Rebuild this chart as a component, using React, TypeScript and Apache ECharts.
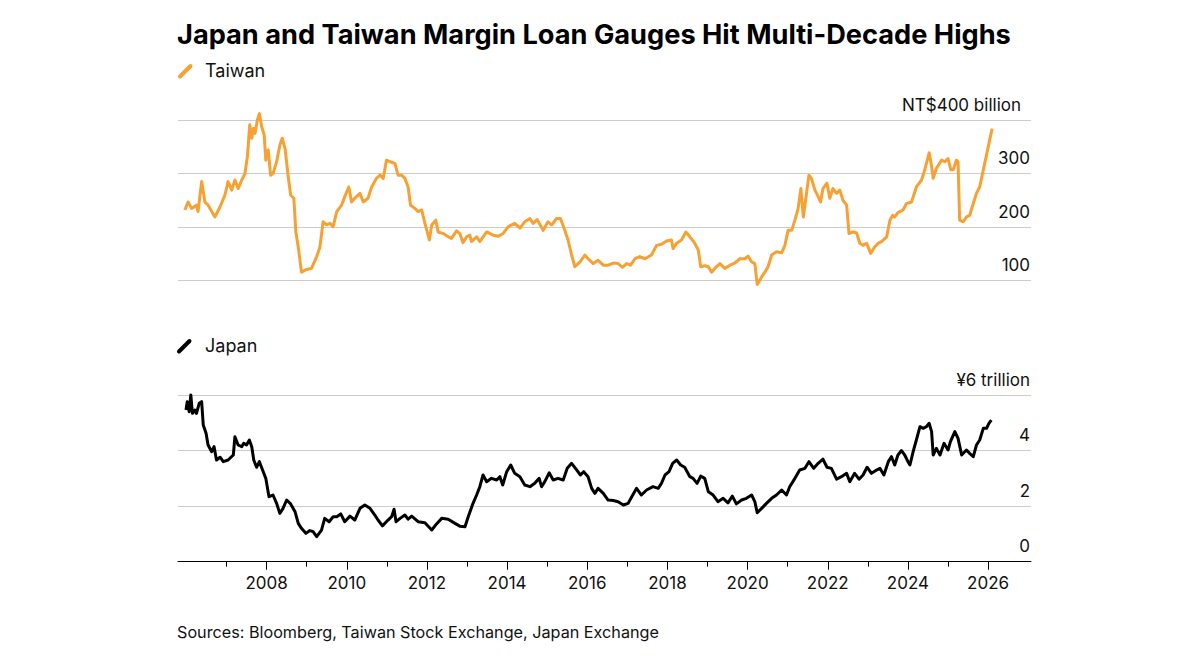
import React, { useEffect, useRef } from "react";
import * as echarts from "echarts";

const TITLE = "Japan and Taiwan Margin Loan Gauges Hit Multi-Decade Highs";
const SOURCE = "Sources: Bloomberg, Taiwan Stock Exchange, Japan Exchange";

const taiwanYears = [
  2005.96, 2006.04, 2006.13, 2006.25, 2006.29, 2006.38, 2006.46, 2006.54, 2006.71, 2006.84,
  2006.96, 2007.04, 2007.13, 2007.21, 2007.29, 2007.38, 2007.46, 2007.52, 2007.58, 2007.63,
  2007.67, 2007.71, 2007.77, 2007.82, 2007.88, 2007.94, 2007.98, 2008.04, 2008.1, 2008.16,
  2008.25, 2008.33, 2008.39, 2008.46, 2008.54, 2008.6, 2008.68, 2008.73, 2008.79, 2008.87,
  2009.0, 2009.12, 2009.25, 2009.33, 2009.41, 2009.5, 2009.58, 2009.66, 2009.75, 2009.87,
  2009.95, 2010.05, 2010.12, 2010.24, 2010.33, 2010.41, 2010.53, 2010.62, 2010.74, 2010.83,
  2010.91, 2010.99, 2011.08, 2011.2, 2011.28, 2011.37, 2011.45, 2011.53, 2011.59, 2011.7,
  2011.78, 2011.87, 2011.95, 2012.06, 2012.12, 2012.22, 2012.28, 2012.41, 2012.53, 2012.61,
  2012.74, 2012.82, 2012.9, 2012.99, 2013.07, 2013.11, 2013.24, 2013.32, 2013.49, 2013.65,
  2013.78, 2013.9, 2014.03, 2014.19, 2014.32, 2014.44, 2014.57, 2014.65, 2014.75, 2014.9,
  2015.02, 2015.11, 2015.23, 2015.33, 2015.44, 2015.52, 2015.61, 2015.69, 2015.82, 2015.94,
  2016.02, 2016.15, 2016.27, 2016.4, 2016.52, 2016.65, 2016.77, 2016.88, 2016.98, 2017.08,
  2017.19, 2017.31, 2017.44, 2017.6, 2017.73, 2017.85, 2017.98, 2018.1, 2018.14, 2018.23,
  2018.35, 2018.46, 2018.56, 2018.68, 2018.77, 2018.83, 2018.93, 2019.02, 2019.1, 2019.22,
  2019.31, 2019.43, 2019.56, 2019.68, 2019.81, 2019.93, 2020.01, 2020.1, 2020.18, 2020.24,
  2020.35, 2020.43, 2020.51, 2020.6, 2020.72, 2020.85, 2020.93, 2021.01, 2021.1, 2021.18,
  2021.26, 2021.33, 2021.39, 2021.47, 2021.53, 2021.59, 2021.68, 2021.76, 2021.82, 2021.88,
  2021.98, 2022.05, 2022.13, 2022.22, 2022.3, 2022.38, 2022.47, 2022.53, 2022.63, 2022.72,
  2022.8, 2022.88, 2022.97, 2023.07, 2023.17, 2023.26, 2023.34, 2023.47, 2023.55, 2023.62,
  2023.67, 2023.75, 2023.88, 2023.96, 2024.09, 2024.21, 2024.34, 2024.42, 2024.53, 2024.59,
  2024.63, 2024.71, 2024.84, 2024.92, 2025.0, 2025.07, 2025.13, 2025.21, 2025.25, 2025.29,
  2025.38, 2025.46, 2025.54, 2025.63, 2025.71, 2025.79, 2025.88, 2025.96, 2026.04, 2026.1,
];
const taiwanValues = [
  232, 247, 235, 241, 229, 285, 247, 241, 219, 238,
  260, 285, 269, 288, 272, 288, 300, 331, 391, 366,
  384, 375, 400, 412, 387, 372, 325, 344, 297, 300,
  322, 353, 366, 347, 294, 260, 254, 191, 163, 116,
  121, 123, 145, 163, 210, 204, 207, 201, 229, 241,
  257, 275, 247, 257, 263, 247, 254, 275, 291, 297,
  291, 325, 322, 319, 297, 297, 291, 275, 241, 235,
  229, 232, 207, 176, 204, 213, 191, 188, 182, 179,
  193, 188, 171, 182, 185, 173, 182, 173, 191, 185,
  183, 188, 201, 207, 198, 210, 216, 207, 214, 194,
  210, 204, 216, 216, 194, 176, 148, 126, 135, 148,
  141, 132, 138, 129, 129, 133, 132, 125, 132, 129,
  141, 145, 141, 148, 166, 168, 174, 176, 160, 170,
  176, 191, 182, 170, 157, 126, 128, 126, 116, 126,
  132, 123, 129, 133, 141, 141, 146, 135, 132, 93,
  107, 116, 126, 148, 154, 152, 166, 194, 194, 213,
  235, 272, 219, 263, 297, 291, 269, 257, 247, 272,
  282, 254, 272, 263, 269, 250, 241, 188, 191, 189,
  170, 166, 170, 151, 163, 170, 173, 182, 213, 222,
  219, 227, 232, 244, 247, 275, 288, 307, 339, 313,
  291, 310, 325, 322, 328, 307, 307, 325, 322, 213,
  210, 219, 222, 244, 263, 275, 307, 335, 363, 384,
];

const japanYears = [
  2005.99, 2006.02, 2006.07, 2006.11, 2006.15, 2006.21, 2006.25, 2006.32, 2006.38, 2006.42,
  2006.49, 2006.54, 2006.63, 2006.69, 2006.75, 2006.84, 2006.92, 2007.04, 2007.17, 2007.21,
  2007.29, 2007.38, 2007.43, 2007.5, 2007.57, 2007.63, 2007.68, 2007.75, 2007.82, 2007.9,
  2007.98, 2008.06, 2008.16, 2008.25, 2008.33, 2008.41, 2008.5, 2008.6, 2008.71, 2008.79,
  2008.87, 2008.98, 2009.08, 2009.16, 2009.25, 2009.37, 2009.45, 2009.56, 2009.66, 2009.75,
  2009.85, 2009.95, 2010.08, 2010.2, 2010.33, 2010.45, 2010.58, 2010.7, 2010.78, 2010.89,
  2011.03, 2011.12, 2011.18, 2011.23, 2011.33, 2011.45, 2011.53, 2011.62, 2011.78, 2011.95,
  2012.12, 2012.24, 2012.37, 2012.53, 2012.7, 2012.82, 2012.95, 2013.03, 2013.15, 2013.24,
  2013.32, 2013.4, 2013.49, 2013.61, 2013.74, 2013.82, 2013.89, 2013.99, 2014.09, 2014.19,
  2014.32, 2014.44, 2014.57, 2014.69, 2014.8, 2014.86, 2014.94, 2015.05, 2015.15, 2015.27,
  2015.4, 2015.5, 2015.61, 2015.72, 2015.83, 2015.91, 2016.02, 2016.11, 2016.19, 2016.27,
  2016.4, 2016.52, 2016.65, 2016.77, 2016.9, 2017.02, 2017.11, 2017.23, 2017.35, 2017.48,
  2017.64, 2017.77, 2017.85, 2017.94, 2018.04, 2018.13, 2018.23, 2018.33, 2018.43, 2018.56,
  2018.64, 2018.74, 2018.83, 2018.93, 2019.02, 2019.14, 2019.26, 2019.39, 2019.51, 2019.62,
  2019.72, 2019.85, 2019.97, 2020.1, 2020.18, 2020.24, 2020.35, 2020.47, 2020.6, 2020.72,
  2020.85, 2020.97, 2021.05, 2021.18, 2021.3, 2021.43, 2021.53, 2021.65, 2021.76, 2021.88,
  2021.98, 2022.09, 2022.22, 2022.34, 2022.47, 2022.55, 2022.67, 2022.78, 2022.88, 2022.98,
  2023.09, 2023.22, 2023.3, 2023.4, 2023.51, 2023.59, 2023.67, 2023.75, 2023.84, 2023.92,
  2024.0, 2024.05, 2024.13, 2024.21, 2024.3, 2024.38, 2024.46, 2024.53, 2024.59, 2024.63,
  2024.71, 2024.8, 2024.9, 2025.0, 2025.06, 2025.17, 2025.25, 2025.34, 2025.46, 2025.54,
  2025.63, 2025.71, 2025.79, 2025.88, 2025.96, 2026.02, 2026.08,
];
const japanValues = [
  5.46, 5.76, 5.4, 6.0, 5.34, 5.46, 5.34, 5.7, 5.76, 4.92,
  4.62, 4.2, 3.96, 4.14, 3.66, 3.76, 3.6, 3.66, 3.84, 4.5,
  4.2, 4.14, 4.26, 4.2, 4.38, 4.14, 3.66, 3.4, 3.6, 3.3,
  3.0, 2.34, 2.4, 2.1, 1.74, 1.92, 2.22, 2.08, 1.8, 1.38,
  1.2, 1.02, 1.12, 1.08, 0.9, 1.14, 1.56, 1.44, 1.62, 1.62,
  1.72, 1.44, 1.64, 1.5, 1.92, 2.04, 1.92, 1.68, 1.5, 1.29,
  1.5, 1.62, 1.89, 1.44, 1.56, 1.68, 1.53, 1.64, 1.44, 1.4,
  1.14, 1.36, 1.56, 1.53, 1.38, 1.28, 1.26, 1.62, 2.1, 2.4,
  2.7, 3.12, 2.88, 3.0, 2.94, 3.06, 2.76, 3.24, 3.48, 3.18,
  3.06, 2.76, 2.7, 2.82, 3.0, 2.7, 2.88, 3.2, 2.94, 3.0,
  2.94, 3.36, 3.54, 3.33, 3.12, 3.24, 3.06, 2.64, 2.46, 2.64,
  2.46, 2.22, 2.2, 2.16, 2.04, 2.1, 2.34, 2.64, 2.4, 2.58,
  2.7, 2.64, 2.82, 3.12, 3.24, 3.54, 3.66, 3.48, 3.4, 3.06,
  3.0, 2.82, 3.08, 3.0, 2.52, 2.4, 2.16, 2.28, 2.12, 2.36,
  2.08, 2.22, 2.28, 2.4, 2.16, 1.76, 1.92, 2.1, 2.28, 2.4,
  2.58, 2.4, 2.7, 3.0, 3.3, 3.36, 3.6, 3.36, 3.54, 3.69,
  3.4, 3.36, 2.97, 3.06, 3.18, 2.88, 3.18, 2.97, 3.12, 3.4,
  3.18, 3.3, 3.36, 3.12, 3.6, 3.78, 3.48, 3.84, 4.0, 3.84,
  3.6, 3.48, 3.96, 4.38, 4.86, 4.8, 4.86, 4.98, 4.68, 3.84,
  4.08, 3.84, 4.26, 4.02, 4.32, 4.68, 4.44, 3.84, 4.02, 3.9,
  3.78, 4.2, 4.38, 4.8, 4.8, 4.98, 5.1,
];

const oddTickYears = [2007, 2009, 2011, 2013, 2015, 2017, 2019, 2021, 2023, 2025];
const labelYears = [2008, 2010, 2012, 2014, 2016, 2018, 2020, 2022, 2024, 2026];

const X_MIN = 2005.79;
const X_MAX = 2027.07;
const FONT = 'Inter, "Liberation Sans", Arial, sans-serif';
const ORANGE = "#f7a033";

export default function App() {
  const ref = useRef<HTMLDivElement>(null);
  useEffect(() => {
    document.body.style.margin = "0";
    if (!ref.current) return;
    const chart = echarts.init(ref.current, null, { renderer: "svg" });
    const taiwan = taiwanYears.map((y, i) => [y, taiwanValues[i]]);
    const japan = japanYears.map((y, i) => [y, japanValues[i]]);
    const yLabel = (size: number) => ({
      inside: true,
      margin: 1,
      verticalAlign: "bottom" as const,
      padding: [0, 0, 7, 0],
      fontSize: size,
      color: "#111",
      fontFamily: FONT,
    });
    chart.setOption({
      animation: false,
      backgroundColor: "#fff",
      textStyle: { fontFamily: FONT },
      grid: [
        { left: 178, right: 169, top: 120, height: 160.7 },
        { left: 178, right: 169, top: 395, height: 166.7 },
      ],
      xAxis: [
        { type: "value", gridIndex: 0, min: X_MIN, max: X_MAX, show: false, splitLine: { show: false } },
        {
          type: "value",
          gridIndex: 1,
          position: "bottom",
          min: X_MIN,
          max: X_MAX,
          splitLine: { show: false },
          axisLine: { show: true, onZero: false, lineStyle: { color: "#000", width: 1 } },
          axisTick: { show: true, customValues: labelYears, length: 8, lineStyle: { color: "#000" } },
          axisLabel: {
            customValues: labelYears,
            formatter: (v: number) => String(v),
            fontSize: 17,
            color: "#111",
            margin: 13,
            fontFamily: FONT,
          },
        },
        {
          type: "value",
          gridIndex: 1,
          position: "bottom",
          offset: 0,
          min: X_MIN,
          max: X_MAX,
          splitLine: { show: false },
          axisLine: { show: false, onZero: false },
          axisTick: { show: true, customValues: oddTickYears, length: 5, lineStyle: { color: "#000" } },
          axisLabel: { show: false },
        },
      ],
      yAxis: [
        {
          type: "value",
          gridIndex: 0,
          min: 100,
          max: 400,
          interval: 100,
          position: "right",
          axisLine: { show: false },
          axisTick: { show: false },
          splitLine: { show: true, lineStyle: { color: "#cccccc", width: 1 } },
          axisLabel: {
            ...yLabel(17),
            formatter: (v: number) => (v === 400 ? "{u|NT$400 billion}" : String(v)),
            rich: { u: { fontSize: 17, color: "#111", fontFamily: FONT, padding: [0, 9, 0, 0] } },
          },
        },
        {
          type: "value",
          gridIndex: 1,
          min: 0,
          max: 6,
          interval: 2,
          position: "right",
          axisLine: { show: false },
          axisTick: { show: false },
          splitLine: { show: true, lineStyle: { color: "#cccccc", width: 1 } },
          axisLabel: {
            ...yLabel(17),
            formatter: (v: number) => (v === 6 ? "¥6 trillion" : String(v)),
          },
        },
      ],
      series: [
        {
          type: "line",
          name: "Taiwan",
          xAxisIndex: 0,
          yAxisIndex: 0,
          data: taiwan,
          showSymbol: false,
          clip: false,
          lineStyle: { color: ORANGE, width: 3, join: "round" },
          itemStyle: { color: ORANGE },
        },
        {
          type: "line",
          name: "Japan",
          xAxisIndex: 1,
          yAxisIndex: 1,
          data: japan,
          showSymbol: false,
          clip: false,
          lineStyle: { color: "#000", width: 3, join: "round" },
          itemStyle: { color: "#000" },
        },
      ],
      graphic: [
        {
          type: "text",
          x: 177,
          y: 34,
          style: {
            text: TITLE,
            fontSize: 27.2,
            fontWeight: "bold",
            fontFamily: FONT,
            fill: "#000",
            verticalAlign: "middle",
          },
        },
        {
          type: "line",
          shape: { x1: 180, y1: 76.5, x2: 190.5, y2: 66 },
          style: { stroke: ORANGE, lineWidth: 4, lineCap: "round" },
        },
        {
          type: "text",
          x: 205,
          y: 70,
          style: { text: "Taiwan", fontSize: 18, fontFamily: FONT, fill: "#111", verticalAlign: "middle" },
        },
        {
          type: "line",
          shape: { x1: 179, y1: 351.5, x2: 189.5, y2: 341 },
          style: { stroke: "#000", lineWidth: 4, lineCap: "round" },
        },
        {
          type: "text",
          x: 205,
          y: 345,
          style: { text: "Japan", fontSize: 18, fontFamily: FONT, fill: "#111", verticalAlign: "middle" },
        },
        {
          type: "text",
          x: 177,
          y: 632,
          style: { text: SOURCE, fontSize: 16.2, fontFamily: FONT, fill: "#111", verticalAlign: "middle" },
        },
      ],
    });
    return () => chart.dispose();
  }, []);
  return <div ref={ref} style={{ width: 1200, height: 660 }} />;
}
